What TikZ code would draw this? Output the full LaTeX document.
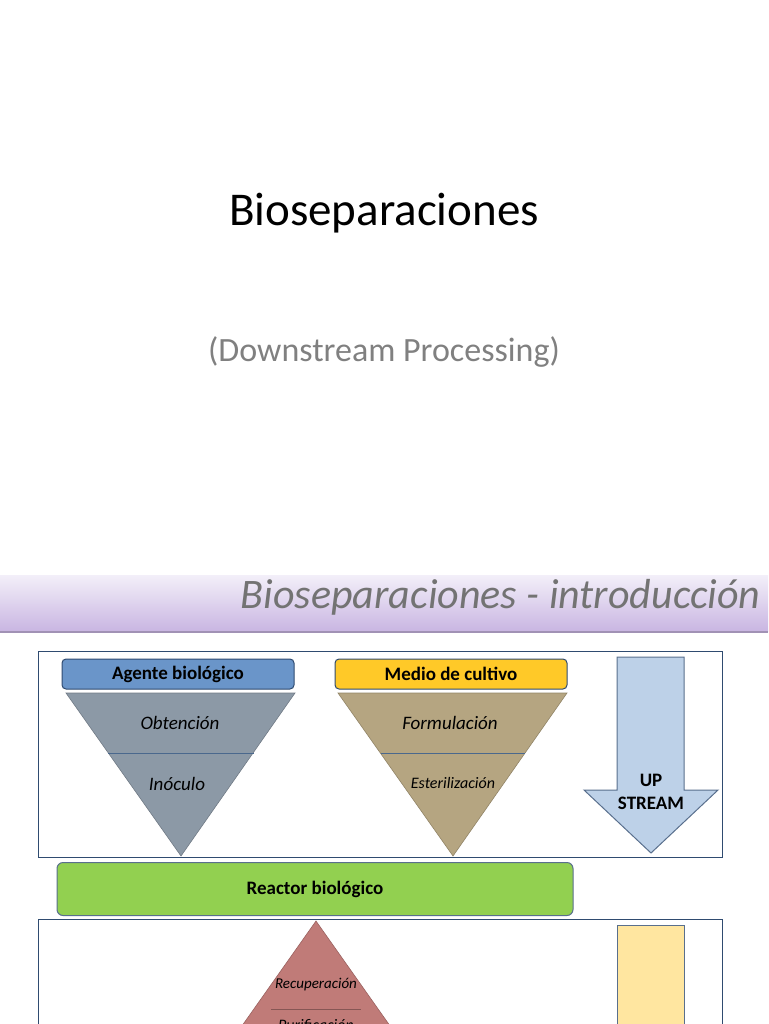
\documentclass[tikz,border=0pt]{standalone}
\usepackage{fontspec}
\setmainfont{Carlito}
\begin{document}
\begin{tikzpicture}[x=1pt,y=-1pt,
  lbl/.style={rounded corners=4pt,draw=frame,fill=#1,line width=1pt,minimum width=232pt,minimum height=30pt,font=\fontsize{19}{22}\selectfont\bfseries},
  tri/.style={draw=#1!80!black,fill=#1,line width=0.6pt},
  it/.style={font=\fontsize{#1}{#1}\selectfont\itshape},
  divl/.style={draw=cblue!70!black,line width=0.6pt}]
\useasboundingbox (0,0) rectangle (768,1024);
\clip (0,0) rectangle (768,1024);
\definecolor{cblue}{HTML}{6A95C9}
\definecolor{cyel}{HTML}{FFC928}
\definecolor{cgray}{HTML}{8C99A6}
\definecolor{cbrown}{HTML}{B5A581}
\definecolor{cgreen}{HTML}{92D050}
\definecolor{cpink}{HTML}{C07B78}
\definecolor{carrow}{HTML}{BDD1E8}
\definecolor{cpale}{HTML}{FFE6A0}
\definecolor{hdtop}{HTML}{F3EFF9}
\definecolor{hdbot}{HTML}{C9B6E2}
\definecolor{frame}{HTML}{2F4B70}
% slide 1
\node[font=\fontsize{47}{50}\selectfont] (t1) at (384,213) {Bioseparaciones};
\node[text=black!50,font=\fontsize{34}{38}\selectfont] (t2) at (384,352) {(Downstream Processing)};
% header
\shade[top color=hdtop,bottom color=hdbot] (0,575) rectangle (768,631);
\draw[color=hdbot!80!black,line width=1.5pt] (0,632) -- (768,632);
\node[anchor=east,text=black!55,font=\fontsize{42}{46}\selectfont\itshape] (t3) at (764,597) {Bioseparaciones - introducción};
% upper frame
\draw[frame,line width=1pt] (38,651) rectangle (722,857);
\node[lbl=cblue] (ag) at (178,674) {Agente biológico};
\node[lbl=cyel] (me) at (451,674) {Medio de cultivo};
\path[tri=cgray] (66,693) -- (295,693) -- (181,856) -- cycle;
\draw[divl] (108,753) -- (254,753);
\node[it=19] (ob) at (180,723) {Obtención};
\node[it=19] (in) at (177,784) {Inóculo};
\path[tri=cbrown] (338,693) -- (567,693) -- (453,856) -- cycle;
\draw[divl] (381,753) -- (525,753);
\node[it=19] (fo) at (450,723) {Formulación};
\node[it=16] (es) at (453,783) {Esterilización};
% arrow
\draw[fill=carrow,draw=frame!80,line width=1pt] (617,657) -- (684,657) -- (684,790) -- (718,790) -- (651,853) -- (584,790) -- (617,790) -- cycle;
\node[align=center,font=\fontsize{19}{23}\selectfont\bfseries] (up) at (651,792) {UP\\STREAM};
% reactor
\node[rounded corners=6pt,draw=frame!80,fill=cgreen,line width=1pt,minimum width=516pt,minimum height=53pt,font=\fontsize{19}{22}\selectfont\bfseries] (re) at (315,889) {Reactor biológico};
% lower frame
\draw[frame,line width=1pt] (38,919) rectangle (722,1040);
\path[tri=cpink] (316,921) -- (400,1040) -- (232,1040) -- cycle;
\draw[cpink!70!black,line width=0.8pt] (271,1009) -- (361,1009);
\node[it=15] (rc) at (316,985) {Recuperación};
\node[it=16] (pu) at (316,1026) {Purificación};
\draw[fill=cpale,draw=frame!80,line width=1pt] (617,925) rectangle (684,1040);
\end{tikzpicture}
\end{document}
